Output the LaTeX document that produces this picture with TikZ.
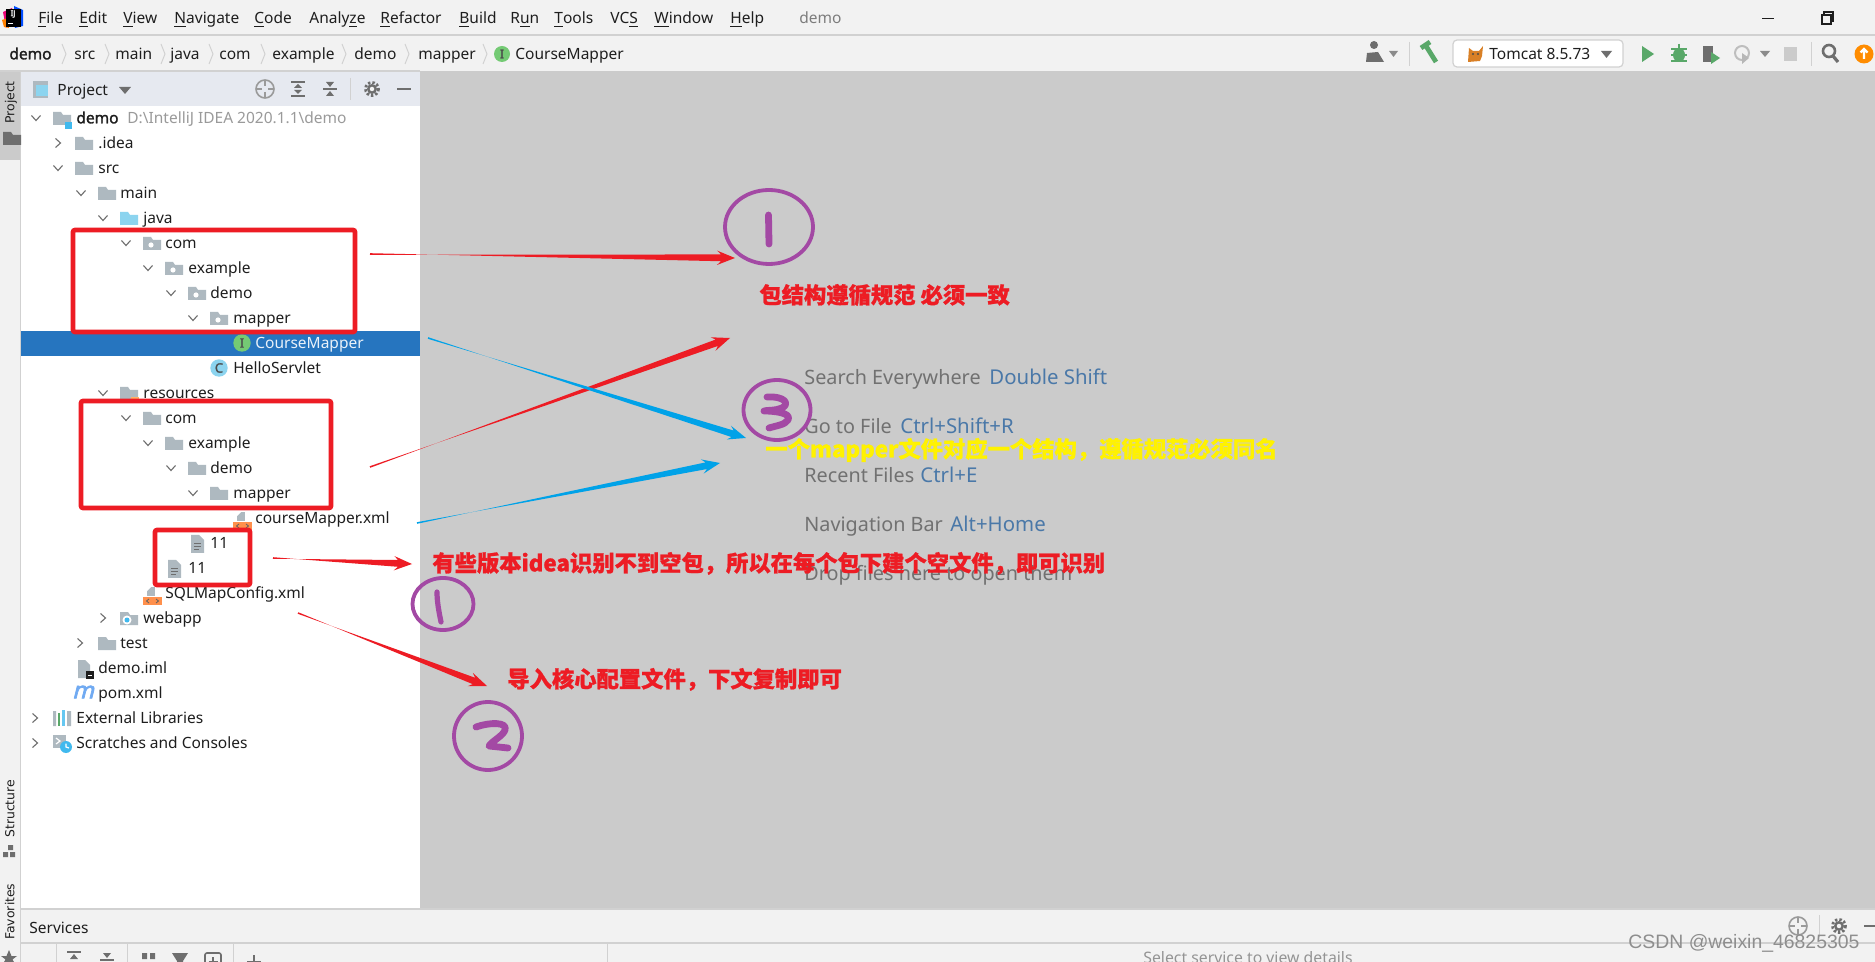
\documentclass[tikz,border=0pt]{standalone}
\usepackage{fontspec}
\setmainfont{Noto Sans}
\newfontfamily\cjk{Noto Sans CJK SC}[BoldFeatures={FakeBold=1.0}]
\newfontfamily\vertfont{DejaVu Sans}
\newfontfamily\wmfont{Liberation Sans}
\newfontfamily\heavyfont{Noto Sans}[FakeBold=1.6]
\newfontfamily\pomfont{Noto Sans}[FakeBold=3,FakeSlant=.25]
\usetikzlibrary{calc}
\definecolor{barbg}{HTML}{F2F2F2}
\definecolor{hdr}{HTML}{E6E9F0}
\definecolor{sep}{HTML}{D1D1D1}
\definecolor{canvasgray}{HTML}{CBCBCB}
\definecolor{sel}{HTML}{2675BF}
\definecolor{txt}{HTML}{1E1E1E}
\definecolor{ico}{HTML}{6E6E6E}
\definecolor{folderc}{HTML}{AEB9C0}
\definecolor{javac}{HTML}{8CD4EF}
\definecolor{hint}{HTML}{717171}
\definecolor{keyc}{HTML}{4A78A8}
\definecolor{annred}{HTML}{ED1C24}
\definecolor{annblue}{HTML}{00A2E8}
\definecolor{annpur}{HTML}{A349A4}
\definecolor{greenic}{HTML}{59A869}
\tikzset{
  ui/.style={font=\fontsize{7.75}{9.6}\selectfont,text=txt,inner sep=0pt,anchor=mid west},
  hintt/.style={font=\fontsize{9.9}{11}\selectfont,text=hint,inner sep=0pt,anchor=mid west},
  keyt/.style={font=\fontsize{10.2}{11}\selectfont,text=keyc,inner sep=0pt,anchor=mid west},
  ann/.style={font=\cjk\bfseries\fontsize{11.15}{13}\selectfont,text=annred,inner sep=0pt,anchor=mid west},
  annbox/.style={draw=annred,line width=2.3pt,rounded corners=1pt},
  pur/.style={draw=annpur,line width=1.9pt},
  purpen/.style={draw=annpur,line width=3.4pt,line cap=round,line join=round},
  vtext/.style={font=\vertfont\fontsize{6.2}{8}\selectfont,text=txt,inner sep=0pt,rotate=90,anchor=mid west},
  chev/.style={draw=ico,line width=.55pt},
  crumb/.style={draw=sep,line width=.5pt}
}
\newcommand{\fold}[3]{\begin{scope}[shift={(#1,#2)}]\fill[#3] (0,-6) -- (8,-6) -- (10,-3) -- (18,-3) -- (18,7) -- (0,7) -- cycle;\end{scope}}
\newcommand{\pkgfold}[2]{\fold{#1}{#2}{folderc}\fill[white] (#1+8,#2+2) circle (2.6);}
\newcommand{\chevd}[2]{\draw[chev] (#1-4.5,#2-2.5) -- (#1,#2+2.5) -- (#1+4.5,#2-2.5);}
\newcommand{\chevr}[2]{\draw[chev] (#1-2.5,#2-4.5) -- (#1+2.5,#2) -- (#1-2.5,#2+4.5);}
\newcommand{\crumbsep}[1]{\draw[crumb] (#1,44) -- (#1+4,54) -- (#1,64);}
\newcommand{\trow}[4]{\node[ui] (#1) at (#2,#3) {#4};}
\newcommand{\xmlicon}[2]{\begin{scope}[shift={(#1,#2)}]\fill[folderc] (4,-9) -- (12,-9) -- (12,0) -- (4,0) -- cycle;\fill[white] (4,-9) -- (8,-9) -- (4,-5) -- cycle;\fill[orange!75!red!70] (0,1) rectangle (19,9);\draw[txt!70,line width=.4pt] (6,3) -- (3.5,5) -- (6,7) (13,3) -- (15.5,5) -- (13,7);\end{scope}}
\newcommand{\fileicon}[2]{\begin{scope}[shift={(#1,#2)}]\fill[folderc] (0,-9) -- (8,-9) -- (13,-4) -- (13,9) -- (0,9) -- cycle;\draw[ico,line width=.5pt] (3,0) -- (10,0) (3,3) -- (10,3) (3,6) -- (8,6);\end{scope}}
\newcommand{\gearic}[3]{\fill[ico] (#1,#2) circle (#3);\draw[ico,line width=1.4pt,dash pattern=on 1.2pt off 1pt] (#1,#2) circle (#3+1.5);\fill[barbg] (#1,#2) circle (#3*.45);}
\newcommand{\targetic}[2]{\draw[ico!70,line width=.8pt] (#1,#2) circle (9);\draw[ico!70,line width=.8pt] (#1-9,#2) -- (#1-3,#2) (#1+3,#2) -- (#1+9,#2) (#1,#2-9) -- (#1,#2-3) (#1,#2+3) -- (#1,#2+9);}
\newcommand{\taper}[3]{%
  \coordinate (tb) at ($(#2)!7pt!(#1)$);
  \coordinate (tc) at ($(#2)!9pt!(#1)$);
  \fill[#3] ($(#1)!.4pt!90:(#2)$) -- ($(tb)!1.7pt!-90:(#2)$) -- ($(tc)!3.6pt!-90:(#2)$) -- (#2) -- ($(tc)!3.6pt!90:(#2)$) -- ($(tb)!1.7pt!90:(#2)$) -- ($(#1)!.4pt!-90:(#2)$) -- cycle;}
\begin{document}
\begin{tikzpicture}[x=.5pt,y=-.5pt]
\path[use as bounding box] (0,0) rectangle (1875,962);
\clip (0,0) rectangle (1875,962);
% panels
\fill[barbg] (0,0) rectangle (1875,962);
\fill[canvasgray] (420,71) rectangle (1875,909);
\fill[white] (21,106) rectangle (420,909);
\fill[hdr] (21,71) rectangle (420,106);
\fill[canvasgray] (0,71) rectangle (20,160);
\draw[sep,line width=.6pt] (0,35) -- (1875,35) (0,71) -- (420,71) (20.5,71) -- (20.5,962);
\draw[sep,line width=.6pt] (21,909) -- (1875,909) (21,943) -- (1875,943);
\draw[sep,line width=.5pt] (56,943) -- (56,962) (127,943) -- (127,962) (233,943) -- (233,962) (607,943) -- (607,962);
% app icon
\fill[magenta!80!red] (3,12) -- (12,8) -- (14,16) -- (6,28) -- cycle;
\fill[orange] (2,20) -- (8,18) -- (9,28) -- (4,27) -- cycle;
\fill[blue!70!cyan] (14,6) -- (23,10) -- (23,26) -- (15,28) -- cycle;
\fill[black] (6,9) rectangle (21,27);
\node[font=\heavyfont\fontsize{4}{5}\selectfont,text=white,inner sep=0pt] (iconIJ) at (13,14) {IJ};
\fill[white] (8,23) rectangle (13,24);
% menu
\node[ui] (mFile) at (38,18) {\underline{F}ile};
\node[ui] (mEdit) at (79,18) {\underline{E}dit};
\node[ui] (mView) at (123,18) {\underline{V}iew};
\node[ui] (mNav) at (174,18) {\underline{N}avigate};
\node[ui] (mCode) at (254,18) {\underline{C}ode};
\node[ui] (mAna) at (309,18) {Analy\underline{z}e};
\node[ui] (mRef) at (380,18) {\underline{R}efactor};
\node[ui] (mBuild) at (459,18) {\underline{B}uild};
\node[ui] (mRun) at (510,18) {R\underline{u}n};
\node[ui] (mTools) at (554,18) {\underline{T}ools};
\node[ui] (mVCS) at (610,18) {VC\underline{S}};
\node[ui] (mWin) at (654,18) {\underline{W}indow};
\node[ui] (mHelp) at (730,18) {\underline{H}elp};
\node[ui,text=ico!90] (mDemo) at (799,18) {demo};
% window buttons
\draw[txt,line width=.6pt] (1762,18.5) -- (1774,18.5);
\draw[txt,line width=.6pt] (1822,15) rectangle (1831,24) (1824,15) -- (1824,12) -- (1833,12) -- (1833,21) -- (1831,21);
% breadcrumb
\node[ui] (bDemo) at (9,54) {\heavyfont demo};
\node[ui] (bSrc) at (74,54) {src};
\node[ui] (bMain) at (115,54) {main};
\node[ui] (bJava) at (170,54) {java};
\node[ui] (bCom) at (219,54) {com};
\node[ui] (bExample) at (272,54) {example};
\node[ui] (bDemo2) at (354,54) {demo};
\node[ui] (bMapper) at (418,54) {mapper};
\fill[green!45!gray!75] (502,54) circle (8);
\node[ui,anchor=center,font=\heavyfont\fontsize{6}{7}\selectfont,text=black!70] (bI) at (502,54) {I};
\node[ui] (bCM) at (515,54) {CourseMapper};
\foreach \cx in {62,105,161,209,261,342,405,483} {\crumbsep{\cx}}
% toolbar right
\fill[ico] (1374,45) circle (4);
\fill[ico] (1366,62) -- (1367,53) -- (1378,52) -- (1384,62) -- cycle;
\fill[ico!80] (1389,51) -- (1398,51) -- (1393.5,57) -- cycle;
\draw[sep,line width=.5pt] (1409,42) -- (1409,66) (1811,42) -- (1811,66);
\draw[greenic,line width=2.4pt] (1421,48) -- (1430,42);
\draw[greenic,line width=2.4pt] (1426,46) -- (1436,62);
\draw[sep,line width=.6pt,fill=white,rounded corners=2pt] (1453,40) rectangle (1623,67);
\fill[brown!60!orange] (1469,48) -- (1473,51) -- (1479,51) -- (1483,46) -- (1482,56) -- (1480,61) -- (1468,62) -- cycle;
\fill[black!70] (1473,54) circle (1.2) (1478,54) circle (1.2);
\node[ui] (runcfg) at (1489,54) {Tomcat 8.5.73};
\fill[ico] (1601,51) -- (1612,51) -- (1606.5,58) -- cycle;
\fill[greenic] (1642,46) -- (1654,54) -- (1642,62) -- cycle;
\fill[greenic] (1679,55) ellipse (6 and 7);
\draw[greenic,line width=.9pt] (1671,49) -- (1687,49) (1671,55) -- (1687,55) (1671,61) -- (1687,61) (1679,44) -- (1679,48);
\fill[ico] (1703,46) rectangle (1713,62);
\fill[greenic] (1711,52) -- (1720,58) -- (1711,64) -- cycle;
\draw[ico!45,line width=1pt] (1742,53) circle (7);
\fill[ico!50] (1742,53) -- (1749,58) -- (1742,64) -- cycle;
\fill[ico!80] (1760,51) -- (1770,51) -- (1765,57) -- cycle;
\fill[canvasgray] (1784,47) rectangle (1797,61);
\draw[ico,line width=1.3pt] (1829,51) circle (6);
\draw[ico,line width=1.6pt] (1833,56) -- (1838,62);
\fill[orange!90!yellow] (1864,54) circle (9.5);
\draw[white,line width=1.1pt] (1864,59) -- (1864,49) (1860.5,52.5) -- (1864,49) -- (1867.5,52.5);
% project header
\fill[folderc] (33,81) rectangle (48,98);
\fill[javac] (36,85) rectangle (48,96);
\node[ui] (pHdr) at (57,90) {Project};
\fill[ico] (119,87) -- (131,87) -- (125,94) -- cycle;
\targetic{265}{89}
\draw[ico,line width=1pt] (291,82) -- (305,82) (291,96) -- (305,96);
\fill[ico] (298,84) -- (302,88) -- (294,88) -- cycle (298,94) -- (302,90) -- (294,90) -- cycle;
\draw[ico,line width=1pt] (323,89) -- (337,89);
\fill[ico] (330,87) -- (326,82) -- (334,82) -- cycle (330,91) -- (326,96) -- (334,96) -- cycle;
\draw[sep,line width=.5pt] (350,78) -- (350,100);
\gearic{372}{89}{5}
\draw[ico,line width=1.3pt] (397,89) -- (411,89);
% left strip
\node[vtext] (vProject) at (9,124) {Project};
\fold{3}{138}{ico}
\node[vtext] (vStruct) at (9,838) {Structure};
\fill[ico] (3,852) rectangle (8,857) (10,852) rectangle (15,857) (8,845) rectangle (13,850);
\node[vtext] (vFav) at (9,940) {Favorites};
\fill[ico] (9,950) -- (11.5,956) -- (17,956) -- (12.5,959.5) -- (14,962) -- (4,962) -- (5.5,959.5) -- (1,956) -- (6.5,956) -- cycle;
% selected row
\fill[sel] (21,331) rectangle (420,356);
% tree icons and chevrons
\chevd{36}{118}
\fold{53}{118}{folderc}\fill[annblue!75] (65,122) rectangle (72,129);
\chevr{58}{143}\fold{75}{143}{folderc}
\chevd{58}{168}\fold{75}{168}{folderc}
\chevd{81}{193}\fold{98}{193}{folderc}
\chevd{103}{218}\fold{120}{218}{javac}
\chevd{126}{243}\pkgfold{143}{243}
\chevd{148}{268}\pkgfold{165}{268}
\chevd{171}{293}\pkgfold{188}{293}
\chevd{193}{318}\pkgfold{210}{318}
\fill[green!45!gray!75] (242,343) circle (8.7);
\node[ui,anchor=center,font=\heavyfont\fontsize{6.5}{7}\selectfont,text=black!70] (iI) at (242,343) {I};
\fill[javac] (219,368) circle (8.7);
\node[ui,anchor=center,font=\heavyfont\fontsize{6.5}{7}\selectfont,text=black!70] (iC) at (219,368) {C};
\chevd{103}{393}\fold{120}{393}{folderc}\fill[orange!60] (131,397) rectangle (139,400);
\chevd{126}{418}\fold{143}{418}{folderc}
\chevd{148}{443}\fold{165}{443}{folderc}
\chevd{171}{468}\fold{188}{468}{folderc}
\chevd{193}{493}\fold{210}{493}{folderc}
\xmlicon{233}{521}
\fileicon{191}{544}
\fileicon{168}{569}
\xmlicon{143}{596}
\chevr{103}{618}\fold{120}{618}{folderc}
\fill[white] (127,620) circle (4.5);\fill[annblue!75] (127,620) circle (2.5);
\chevr{80}{643}\fold{98}{643}{folderc}
\begin{scope}[shift={(78,669)}]\fill[folderc] (0,-9) -- (7,-9) -- (12,-4) -- (12,9) -- (0,9) -- cycle;\fill[txt] (8,2) rectangle (16,10);\fill[white] (10,6) rectangle (14,7);\end{scope}
\node[font=\pomfont\fontsize{11.5}{12}\selectfont,text=javac!80!blue,inner sep=0pt] (iM) at (83,692) {m};
\chevr{35}{718}
\fill[folderc] (53,711) rectangle (56,726) (67,711) rectangle (71,726);
\fill[greenic] (58,713) rectangle (60,726);
\fill[annblue!60] (62,710) rectangle (65,726);
\chevr{35}{743}
\fill[folderc] (53,735) rectangle (66,748);
\draw[white,line width=.6pt] (56,738) -- (60,741) -- (56,744);
\fill[annblue!75] (66,747) circle (6);
\draw[white,line width=.6pt] (66,743.5) -- (66,747) -- (69,748);
% tree text
\trow{tDemo}{76}{118}{\heavyfont demo}
\node[ui,text=ico!70] (tPath) at (127,118) {D:\textbackslash IntelliJ IDEA 2020.1.1\textbackslash demo};
\trow{tIdea}{98}{143}{.idea}
\trow{tSrc}{98}{168}{src}
\trow{tMain}{120}{193}{main}
\trow{tJava}{143}{218}{java}
\trow{tCom}{165}{243}{com}
\trow{tEx}{188}{268}{example}
\trow{tDm}{210}{293}{demo}
\trow{tMp}{233}{318}{mapper}
\node[ui,text=white!90!sel] (tCM) at (255,343) {CourseMapper};
\trow{tHS}{233}{368}{HelloServlet}
\trow{tRes}{143}{393}{resources}
\trow{tCom2}{165}{418}{com}
\trow{tEx2}{188}{443}{example}
\trow{tDm2}{210}{468}{demo}
\trow{tMp2}{233}{493}{mapper}
\trow{tXml}{255}{518}{courseMapper.xml}
\trow{tOne}{210}{543}{11}
\trow{tTwo}{188}{568}{11}
\trow{tSql}{165}{593}{SQLMapConfig.xml}
\trow{tWeb}{143}{618}{webapp}
\trow{tTest}{120}{643}{test}
\trow{tIml}{98}{668}{demo.iml}
\trow{tPom}{98}{693}{pom.xml}
\trow{tExt}{76}{718}{External Libraries}
\trow{tScr}{76}{743}{Scratches and Consoles}
% welcome hints
\node[hintt] (h1) at (804,379) {Search Everywhere};
\node[keyt] (k1) at (989,379) {Double Shift};
\node[hintt] (h2) at (804,428) {Go to File};
\node[keyt] (k2) at (900,428) {Ctrl+Shift+R};
\node[hintt] (h3) at (804,477) {Recent Files};
\node[keyt] (k3) at (920,477) {Ctrl+E};
\node[hintt] (h4) at (804,526) {Navigation Bar};
\node[keyt] (k4) at (950,526) {Alt+Home};
\node[hintt] (h5) at (804,575) {Drop files here to open them};
% services
\node[ui] (sv) at (29,928) {Services};
\draw[ico,line width=1pt] (67,952) -- (81,952) (100,960) -- (114,960);
\fill[ico] (74,954) -- (78,959) -- (70,959) -- cycle (103,953) -- (111,953) -- (107,958) -- cycle;
\fill[ico] (142,953) rectangle (147,959) (150,953) rectangle (155,959);
\fill[ico] (172,953) -- (188,953) -- (183,961) -- (183,966) -- (177,966) -- (177,961) -- cycle;
\draw[ico,line width=.8pt,rounded corners=1pt] (205,953) rectangle (221,970);
\draw[ico,line width=.8pt] (213,957) -- (213,966) (208.5,961.5) -- (217.5,961.5);
\draw[ico,line width=1pt] (254,955) -- (254,969) (247,962) -- (261,962);
\targetic{1798}{926}
\draw[sep,line width=.5pt] (1819,915) -- (1819,937);
\gearic{1839}{926}{5}
\draw[ico,line width=1.3pt] (1864,926) -- (1875,926);
\node[ui,text=hint!75,font=\fontsize{7.9}{9}\selectfont] (selsvc) at (1143,958) {Select service to view details};
% red boxes
\draw[annbox] (73,230) rectangle (355,332);
\draw[annbox] (81,401) rectangle (331,508);
\draw[annbox] (155,530) rectangle (250,585);
% arrows
\coordinate (a1s) at (370,254); \coordinate (a1t) at (735,258);
\coordinate (a2s) at (370,467); \coordinate (a2t) at (730,338);
\coordinate (a3s) at (428,338); \coordinate (a3t) at (746,438);
\coordinate (a4s) at (417,523); \coordinate (a4t) at (720,463);
\coordinate (a5s) at (273,558); \coordinate (a5t) at (412,564);
\coordinate (a6s) at (298,613); \coordinate (a6t) at (487,686);
\taper{a2s}{a2t}{annred}
\taper{a3s}{a3t}{annblue}
\taper{a1s}{a1t}{annred}
\taper{a4s}{a4t}{annblue}
\taper{a5s}{a5t}{annred}
\taper{a6s}{a6t}{annred}
% purple marks
\draw[pur] (769,227) ellipse (44 and 37);
\draw[purpen] (768.5,215) -- (769,244);
\draw[pur] (777,410) ellipse (33.5 and 30);
\draw[purpen] (767,397) .. controls (785,396) and (790,404) .. (782,408) .. controls (775,411) and (766,410) .. (764,411) .. controls (775,411) and (792,413) .. (788,420) .. controls (785,425) and (775,426) .. (769,428);
\draw[pur] (443,604) ellipse (30.5 and 26);
\draw[purpen,line width=2.6pt] (437,592) .. controls (437,602) and (439,612) .. (441,622);
\draw[pur] (488,736) ellipse (34 and 34);
\draw[purpen] (476,727) .. controls (490,722) and (508,722) .. (505,730) .. controls (503,736) and (492,741) .. (489,746) -- (508,748);
% annotation text
\node[ann] (t1) at (759,298) {包结构遵循规范 必须一致};
\node[ann,text=yellow] (t2) at (765,452) {一个mapper文件对应一个结构，遵循规范必须同名};
\node[ann] (t3) at (432,566) {有些版本idea识别不到空包，所以在每个包下建个空文件，即可识别};
\node[ann] (t4) at (507,682) {导入核心配置文件，下文复制即可};
% watermark
\node[font=\wmfont\fontsize{9.7}{11}\selectfont,text=hint!80,inner sep=0pt,anchor=mid west] (wm) at (1628,943) {CSDN @weixin\_46825305};
\end{tikzpicture}
\end{document}
